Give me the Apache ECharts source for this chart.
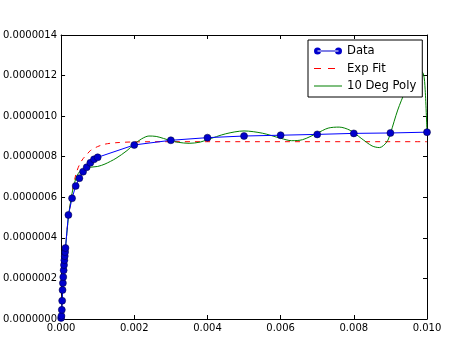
<!DOCTYPE html>
<html>
<head>
<meta charset="utf-8">
<script src="https://cdn.jsdelivr.net/npm/echarts@6/dist/echarts.min.js"></script>
<style>html,body{margin:0;padding:0;background:#fff}#c{width:474px;height:355px}</style>
</head>
<body>
<div id="c"></div>
<script>
// values in units of 1e-6
const dataX = [0, 0.00001, 0.00002, 0.00003, 0.00004, 0.00005, 0.00006, 0.00007, 0.00008, 0.00009, 0.0001, 0.00011, 0.00012,
  0.0002, 0.0003, 0.0004, 0.0005, 0.0006, 0.0007, 0.0008, 0.0009, 0.001,
  0.002, 0.003, 0.004, 0.005, 0.006, 0.007, 0.008, 0.009, 0.010];
const dataY = [0.005, 0.015, 0.045, 0.09, 0.143, 0.177, 0.207, 0.24, 0.266, 0.29, 0.31, 0.33, 0.35,
  0.513, 0.595, 0.656, 0.694, 0.726, 0.748, 0.770, 0.787, 0.797,
  0.858, 0.881, 0.894, 0.902, 0.906, 0.910, 0.915, 0.917, 0.921];
const expX = [0, 0.00005, 0.0001, 0.00015, 0.0002, 0.0003, 0.0004, 0.0005, 0.0006, 0.0007, 0.0008, 0.001, 0.0012, 0.0015, 0.002, 0.003, 0.005, 0.01];
const expY = [0, 0.16, 0.30, 0.41, 0.50, 0.62, 0.71, 0.76, 0.79, 0.81, 0.83, 0.85, 0.862, 0.869, 0.873, 0.874, 0.874, 0.874];
const polyX = [0, 0.00005, 0.0001, 0.0002, 0.0003, 0.0004, 0.0005, 0.0006, 0.0008, 0.001, 0.0012, 0.0015, 0.0018, 0.002, 0.0022, 0.0024, 0.0026, 0.0028, 0.003, 0.0032, 0.0035, 0.0038, 0.004, 0.0045, 0.005, 0.0055, 0.006, 0.0063, 0.0066, 0.007, 0.0073, 0.0076, 0.0079, 0.0082, 0.0085, 0.0087, 0.0089, 0.009, 0.0092, 0.0094, 0.0096, 0.0098, 0.0099, 0.00995, 0.01];
const polyY = [0, 0.16, 0.30, 0.50, 0.62, 0.69, 0.725, 0.735, 0.748, 0.752, 0.764, 0.792, 0.83, 0.862, 0.888, 0.902, 0.900, 0.890, 0.879, 0.871, 0.866, 0.872, 0.884, 0.913, 0.927, 0.916, 0.891, 0.879, 0.884, 0.916, 0.941, 0.946, 0.930, 0.891, 0.853, 0.845, 0.872, 0.915, 1.03, 1.12, 1.19, 1.225, 1.21, 1.13, 0.921];
const xTicks = [0, 0.002, 0.004, 0.006, 0.008, 0.010];
const yTicks = [0, 0.2, 0.4, 0.6, 0.8, 1.0, 1.2, 1.4];

const zip = (a, b) => a.map((v, i) => [v, b[i]]);
const font = 'DejaVu Sans';
const axisCommon = {
  axisLine: { show: true, onZero: false, lineStyle: { color: '#000', width: 1 } },
  axisTick: { show: true, inside: true, length: 4, lineStyle: { color: '#000' } },
  splitLine: { show: false }
};
const iconData = 'path://M0,6 a3.5,3.5 0 1,0 7,0 a3.5,3.5 0 1,0 -7,0 M3.5,5.5 h21 v1 h-21 z M21,6 a3.5,3.5 0 1,0 7,0 a3.5,3.5 0 1,0 -7,0';
const iconDash = 'path://M0,2.5 h7 v1 h-7 z M14,2.5 h7 v1 h-7 z M0,0 h0.01 v0.01 h-0.01 z M27.99,5.99 h0.01 v0.01 h-0.01 z';
const iconSolid = 'path://M0,2.5 h28 v1 h-28 z M0,0 h0.01 v0.01 h-0.01 z M27.99,5.99 h0.01 v0.01 h-0.01 z';
const chart = echarts.init(document.getElementById('c'), null, { renderer: 'canvas' });
chart.setOption({
  animation: false,
  backgroundColor: '#fff',
  grid: { left: 59, right: 47, top: 35, bottom: 36, containLabel: false },
  xAxis: [
    Object.assign({ type: 'value', min: xTicks[0], max: xTicks[xTicks.length - 1], interval: 0.002, position: 'bottom',
      axisLabel: { color: '#000', fontFamily: font, fontSize: 10, margin: 4, formatter: v => v.toFixed(3) } }, axisCommon),
    Object.assign({ type: 'value', min: xTicks[0], max: xTicks[xTicks.length - 1], interval: 0.002, position: 'top',
      axisLabel: { show: false } }, axisCommon)
  ],
  yAxis: [
    Object.assign({ type: 'value', min: yTicks[0], max: yTicks[yTicks.length - 1], interval: 0.2, position: 'left',
      axisLabel: { color: '#000', fontFamily: font, fontSize: 10, margin: 4, formatter: v => (v * 1e-6).toFixed(7) } }, axisCommon),
    Object.assign({ type: 'value', min: yTicks[0], max: yTicks[yTicks.length - 1], interval: 0.2, position: 'right',
      axisLabel: { show: false } }, axisCommon)
  ],
  legend: {
    orient: 'vertical', left: 308, top: 40,
    backgroundColor: '#fff', borderColor: '#000', borderWidth: 1, borderRadius: 0,
    padding: [5, 6, 5, 6], itemGap: 5.5, itemWidth: 28, itemHeight: 12,
    textStyle: { fontFamily: font, fontSize: 11.6, color: '#000' },
    data: [
      { name: 'Data', icon: iconData, itemStyle: { color: '#0000cc', borderWidth: 0 } },
      { name: 'Exp Fit', icon: iconDash, itemStyle: { color: '#ff0000', borderWidth: 0 } },
      { name: '10 Deg Poly', icon: iconSolid, itemStyle: { color: '#008000', borderWidth: 0 } }
    ]
  },
  series: [
    {
      name: 'Exp Fit', type: 'line', data: zip(expX, expY), smooth: 0.3, showSymbol: false, symbol: 'none',
      lineStyle: { color: '#ff0000', width: 1, type: [5, 5] }, itemStyle: { color: '#ff0000' }, z: 2
    },
    {
      name: '10 Deg Poly', type: 'line', data: zip(polyX, polyY), smooth: 0.3, showSymbol: false, symbol: 'none',
      lineStyle: { color: '#008000', width: 1 }, itemStyle: { color: '#008000' }, z: 3
    },
    {
      name: 'Data', type: 'line', data: zip(dataX, dataY), symbol: 'circle', symbolSize: 7, showAllSymbol: true,
      lineStyle: { color: '#0000ff', width: 1 },
      itemStyle: { color: '#0000cc', borderColor: '#000033', borderWidth: 0.5 }, z: 4
    }
  ]
});
</script>
</body>
</html>
